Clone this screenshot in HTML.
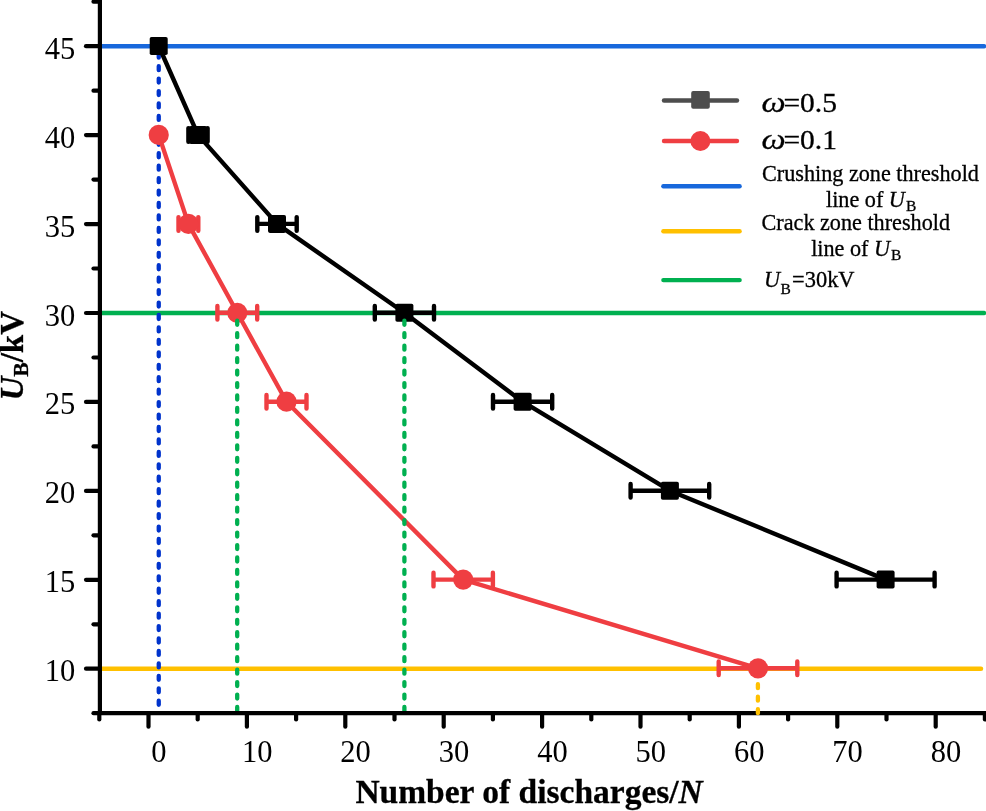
<!DOCTYPE html>
<html lang="en"><head><meta charset="utf-8"><title>Chart</title>
<style>html,body{margin:0;padding:0;background:#fff;}svg{display:block;}text{font-family:"Liberation Serif",serif;fill:#000;stroke:#000;stroke-width:0.3px;}.tk text{stroke:none;}</style>
</head><body>
<svg width="986" height="811" viewBox="0 0 986 811">
<rect width="986" height="811" fill="#fff"/>
<g stroke-width="4.5" stroke-linecap="round" fill="none">
<line x1="102" y1="46.3" x2="984" y2="46.3" stroke="#1868DC"/>
<line x1="102" y1="313.1" x2="984" y2="313.1" stroke="#00B050"/>
<line x1="102" y1="668.7" x2="981" y2="668.7" stroke="#FFC000"/>
</g>
<g stroke-width="4.3" fill="none" stroke-linecap="round" stroke-dasharray="4 8.443">
<line x1="158.75" y1="53.7" x2="158.75" y2="706.5" stroke="#0033CC"/>
</g>
<g stroke="#000" stroke-width="4.4" stroke-linecap="round" stroke-linejoin="round" fill="none">
<polyline points="158.7,46.0 198.0,134.9 277.0,223.9 404.4,312.8 522.6,401.7 669.9,490.7 885.6,579.6"/>
<path d="M188.4 134.9H207.6M188.4 128.1V141.7M207.6 128.1V141.7"/>
<path d="M257.3 223.9H296.7M257.3 217.1V230.7M296.7 217.1V230.7"/>
<path d="M374.8 312.8H434.0M374.8 306.0V319.6M434.0 306.0V319.6"/>
<path d="M493.0 401.7H552.2M493.0 394.9V408.5M552.2 394.9V408.5"/>
<path d="M630.6 490.7H709.2M630.6 483.9V497.5M709.2 483.9V497.5"/>
<path d="M836.6 579.6H934.6M836.6 572.8V586.4M934.6 572.8V586.4"/>
</g>
<g fill="#000">
<rect x="149.7" y="37.0" width="18" height="18" rx="1.8"/>
<rect x="189.0" y="125.9" width="18" height="18" rx="1.8"/>
<rect x="268.0" y="214.9" width="18" height="18" rx="1.8"/>
<rect x="395.4" y="303.8" width="18" height="18" rx="1.8"/>
<rect x="513.6" y="392.7" width="18" height="18" rx="1.8"/>
<rect x="660.9" y="481.7" width="18" height="18" rx="1.8"/>
<rect x="876.6" y="570.6" width="18" height="18" rx="1.8"/>
</g>
<g stroke="#EF3E42" stroke-width="4.4" stroke-linecap="round" stroke-linejoin="round" fill="none">
<polyline points="158.7,134.9 188.4,223.9 237.3,312.8 286.5,401.7 463.2,579.6 758.0,668.3"/>
<path d="M178.5 223.9H198.3M178.5 217.1V230.7M198.3 217.1V230.7"/>
<path d="M217.4 312.8H257.2M217.4 306.0V319.6M257.2 306.0V319.6"/>
<path d="M266.5 401.7H306.5M266.5 394.9V408.5M306.5 394.9V408.5"/>
<path d="M433.5 579.6H492.9M433.5 572.8V586.4M492.9 572.8V586.4"/>
<path d="M718.7 668.3H797.3M718.7 661.5V675.1M797.3 661.5V675.1"/>
</g>
<g fill="#EF3E42">
<circle cx="158.7" cy="134.9" r="10.1"/>
<circle cx="188.4" cy="223.9" r="10.1"/>
<circle cx="237.3" cy="312.8" r="10.1"/>
<circle cx="286.5" cy="401.7" r="10.1"/>
<circle cx="463.2" cy="579.6" r="10.1"/>
<circle cx="758.0" cy="668.3" r="10.1"/>
</g>
<g stroke-width="4.3" fill="none" stroke-linecap="round" stroke-dasharray="4 8.46">
<line x1="237.2" y1="320.75" x2="237.2" y2="711.5" stroke="#00B050"/>
<line x1="404.4" y1="320.75" x2="404.4" y2="711.5" stroke="#00B050"/>
</g>
<g stroke="#000" stroke-width="4.2" stroke-linecap="round" fill="none">
<line x1="99.9" y1="-5" x2="99.9" y2="713.2"/>
<line x1="99.9" y1="713.2" x2="990" y2="713.2"/>
</g>
<g stroke="#000" stroke-width="4.2" stroke-linecap="round" fill="none">
<line x1="93.5" y1="713.2" x2="99.9" y2="713.2"/>
<line x1="86" y1="668.7" x2="99.9" y2="668.7"/>
<line x1="93.5" y1="624.3" x2="99.9" y2="624.3"/>
<line x1="86" y1="579.8" x2="99.9" y2="579.8"/>
<line x1="93.5" y1="535.3" x2="99.9" y2="535.3"/>
<line x1="86" y1="490.9" x2="99.9" y2="490.9"/>
<line x1="93.5" y1="446.4" x2="99.9" y2="446.4"/>
<line x1="86" y1="401.9" x2="99.9" y2="401.9"/>
<line x1="93.5" y1="357.5" x2="99.9" y2="357.5"/>
<line x1="86" y1="313.0" x2="99.9" y2="313.0"/>
<line x1="93.5" y1="268.5" x2="99.9" y2="268.5"/>
<line x1="86" y1="224.1" x2="99.9" y2="224.1"/>
<line x1="93.5" y1="179.6" x2="99.9" y2="179.6"/>
<line x1="86" y1="135.1" x2="99.9" y2="135.1"/>
<line x1="93.5" y1="90.7" x2="99.9" y2="90.7"/>
<line x1="86" y1="46.2" x2="99.9" y2="46.2"/>
<line x1="93.5" y1="1.7" x2="99.9" y2="1.7"/>
<line x1="99.3" y1="713.2" x2="99.3" y2="719.5"/>
<line x1="148.5" y1="713.2" x2="148.5" y2="726.7"/>
<line x1="197.7" y1="713.2" x2="197.7" y2="719.5"/>
<line x1="246.9" y1="713.2" x2="246.9" y2="726.7"/>
<line x1="296.1" y1="713.2" x2="296.1" y2="719.5"/>
<line x1="345.3" y1="713.2" x2="345.3" y2="726.7"/>
<line x1="394.5" y1="713.2" x2="394.5" y2="719.5"/>
<line x1="443.7" y1="713.2" x2="443.7" y2="726.7"/>
<line x1="492.9" y1="713.2" x2="492.9" y2="719.5"/>
<line x1="542.1" y1="713.2" x2="542.1" y2="726.7"/>
<line x1="591.3" y1="713.2" x2="591.3" y2="719.5"/>
<line x1="640.5" y1="713.2" x2="640.5" y2="726.7"/>
<line x1="689.7" y1="713.2" x2="689.7" y2="719.5"/>
<line x1="738.9" y1="713.2" x2="738.9" y2="726.7"/>
<line x1="788.1" y1="713.2" x2="788.1" y2="719.5"/>
<line x1="837.3" y1="713.2" x2="837.3" y2="726.7"/>
<line x1="886.5" y1="713.2" x2="886.5" y2="719.5"/>
<line x1="935.7" y1="713.2" x2="935.7" y2="726.7"/>
<line x1="984.9" y1="713.2" x2="984.9" y2="719.5"/>
</g>
<g class="tk" font-size="30.5" text-anchor="middle">
<text x="158.8" y="762">0</text>
<text x="257.2" y="762">10</text>
<text x="355.6" y="762">20</text>
<text x="454.0" y="762">30</text>
<text x="552.4" y="762">40</text>
<text x="650.8" y="762">50</text>
<text x="749.2" y="762">60</text>
<text x="847.6" y="762">70</text>
<text x="946.0" y="762">80</text>
</g>
<g class="tk" font-size="30.5" text-anchor="end">
<text x="75.2" y="681.2">10</text>
<text x="75.2" y="592.3">15</text>
<text x="75.2" y="503.4">20</text>
<text x="75.2" y="414.4">25</text>
<text x="75.2" y="325.5">30</text>
<text x="75.2" y="236.6">35</text>
<text x="75.2" y="147.6">40</text>
<text x="75.2" y="58.7">45</text>
</g>
<line x1="757.9" y1="684.2" x2="757.9" y2="714" stroke="#FFC000" stroke-width="4.3" fill="none" stroke-linecap="round" stroke-dasharray="4 8.5"/>
<g stroke-width="4.4" stroke-linecap="round" fill="none">
<line x1="664" y1="100.5" x2="737" y2="100.5" stroke="#4D4D4D"/>
<line x1="664" y1="141" x2="737" y2="141" stroke="#EF3E42"/>
<line x1="663.4" y1="186.3" x2="739.6" y2="186.3" stroke="#1868DC"/>
<line x1="663.4" y1="231.2" x2="739.6" y2="231.2" stroke="#FFC000"/>
<line x1="663.4" y1="280.1" x2="739.6" y2="280.1" stroke="#00B050"/>
</g>
<rect x="691.2" y="91.1" width="18.6" height="17.6" rx="2" fill="#4D4D4D"/>
<circle cx="700.4" cy="141" r="10" fill="#EF3E42"/>
<text transform="translate(761.6,112) scale(1.2,1)" font-size="28.5" font-style="italic">ω</text>
<text x="783.4" y="112" font-size="27" textLength="53.6" lengthAdjust="spacingAndGlyphs">=0.5</text>
<text transform="translate(761.6,149.1) scale(1.2,1)" font-size="28.5" font-style="italic">ω</text>
<text x="783.4" y="149.1" font-size="27" textLength="53.6" lengthAdjust="spacingAndGlyphs">=0.1</text>
<text x="762" y="180.8" font-size="22.2">Crushing zone threshold</text>
<text x="826" y="207.2" font-size="22.2">line of <tspan font-style="italic">U</tspan><tspan font-size="15.5" dy="4" dx="1">B</tspan></text>
<text x="761.5" y="230.4" font-size="22.2">Crack zone threshold</text>
<text x="811.2" y="256.2" font-size="22.2">line of <tspan font-style="italic">U</tspan><tspan font-size="15.5" dy="4" dx="1">B</tspan></text>
<text x="764" y="287.4" font-size="22.2"><tspan font-style="italic">U</tspan><tspan font-size="15.5" dy="6.5" dx="0.5">B</tspan><tspan dy="-6.5" dx="1.2" textLength="62.5" lengthAdjust="spacingAndGlyphs">=30kV</tspan></text>
<text x="355.4" y="803.2" font-size="33.5" font-weight="bold">Number of discharges/<tspan font-style="italic">N</tspan></text>
<text transform="translate(22.7,400.5) rotate(-90)" font-size="33" font-weight="bold"><tspan font-style="italic">U</tspan><tspan font-size="21.5" dy="5.2">B</tspan><tspan dy="-5.2">/kV</tspan></text>
</svg></body></html>
